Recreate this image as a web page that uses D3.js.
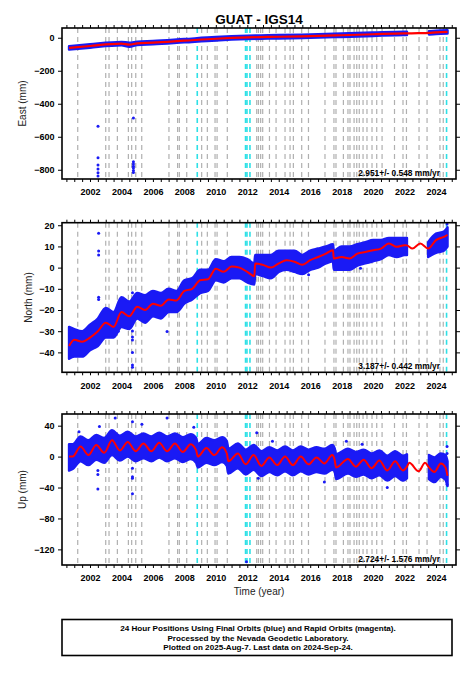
<!DOCTYPE html>
<html>
<head>
<meta charset="utf-8">
<script src="https://cdn.jsdelivr.net/npm/d3@7"></script>
<style>
  body { margin: 0; background: #fff; }
  svg { display: block; font-family: "Liberation Sans", Arial, Helvetica, sans-serif; }
</style>
</head>
<body>
<script>
// GUAT - IGS14 time series

var station = "GUAT - IGS14";
var yearLabels = [2002, 2004, 2006, 2008, 2010, 2012, 2014, 2016, 2018, 2020, 2022, 2024];

// equipment / event lines (decimal year)
var greyLines = [2001.22, 2003.00, 2003.21, 2003.74, 2004.44, 2004.65, 2004.91, 2005.29, 2007.02, 2007.57,
  2007.68, 2008.15, 2009.10, 2009.46, 2009.95, 2010.08, 2010.73, 2012.60, 2012.71, 2012.85, 2012.98,
  2013.41, 2013.83, 2014.40, 2014.72, 2014.93, 2015.46, 2015.89, 2016.94, 2017.51, 2017.64, 2018.11,
  2018.40, 2018.53, 2018.79, 2018.96, 2019.12, 2019.36, 2019.61, 2019.93, 2020.23, 2020.57, 2021.36,
  2021.90, 2022.12, 2022.92, 2023.43, 2024.25, 2024.46];
var cyanLines = [2008.82, 2011.89, 2011.98, 2012.17, 2024.67];

// East
var eastT     = [2000.67, 2002, 2004, 2004.5, 2005, 2006, 2008, 2010, 2012, 2014, 2016, 2018, 2020, 2022, 2022.15, 2023, 2023.55, 2024, 2024.73];
var eastModel = [-62, -50, -36, -42, -34, -30, -18, -6, 2, 6, 10, 15, 21, 26, 26, 28, 30, 33, 35];
var eastHi    = [-52, -40, -26, -30, -24, -20, -8, 4, 12, 16, 20, 25, 31, 36, 36, null, 40, 43, 45];
var eastLo    = [-72, -60, -46, -54, -44, -40, -28, -16, -8, -4, 0, 5, 11, 16, 16, null, 20, 23, 25];
var eastOut   = [[2002.51, -537], [2002.51, -727], [2002.51, -771], [2002.51, -796], [2002.51, -818], [2002.51, -838],
  [2004.76, -487], [2004.76, -751], [2004.76, -765], [2004.76, -778], [2004.76, -790], [2004.76, -804], [2004.76, -816]];
var eastRate = "2.951+/- 0.548 mm/yr";

// North
var northT     = [2000.67, 2001.0, 2001.5, 2002.0, 2002.5, 2003.0, 2003.5, 2004.0, 2004.5, 2005.0, 2005.5, 2006.0,
  2006.5, 2007.0, 2007.5, 2008.0, 2008.5, 2009.0, 2009.5, 2010.0, 2010.5, 2011.0, 2011.5, 2012.0, 2012.45,
  2012.5, 2013.0, 2013.5, 2014.0, 2014.5, 2015.0, 2015.5, 2016.0, 2016.5, 2017.0, 2017.45, 2017.5, 2018.0,
  2018.5, 2019.0, 2019.5, 2020.0, 2020.5, 2021.0, 2021.5, 2022.0, 2022.15, 2022.5, 2023.0, 2023.5, 2024.0,
  2024.5, 2024.73];
var northModel = [-37, -34, -35, -33, -30, -26, -28, -21, -23, -18.5, -20, -17, -18, -15, -15.5, -11, -10, -6,
  -5.5, -0.5, -2, 0.5, 0, -2, -4, 2, 1.3, 0, 2, 3.5, 2.8, 1.3, 3.5, 5, 6.6, 8.2, 4.3, 5, 4.3, 6.6, 7.4, 8.2,
  9, 11.4, 9.8, 10.6, 10.5, 9, 11.4, 9, 13, 14.5, 15.4];
var northHi    = [-28, -29, -30, -27, -24, -19, -21, -14, -16, -12, -13, -11, -12, -10, -11, -6, -5, -1, -1, 4,
  3, 5, 5, 4, 2, 6, 6, 6, 8, 8, 8, 6, 8, 9, 10, 11, 8, 10, 10, 11, 12, 13, 13, 14, 14, 14, 14, null, null,
  12, 16, 17, 19];
var northLo    = [-43, -42, -42, -39, -37, -33, -33, -28, -29, -24, -26, -23, -24, -21, -21, -17, -15, -12, -11,
  -6, -7, -5, -5, -7, -8, -3, -4, -5, -2, -1, -2, -3, -1, 0, 2, 3, -1, -1, -1, 1, 2, 3, 4, 6, 5, 6, 6, null,
  null, 5, 7, 8, 10];
var northOut   = [[2002.55, 16.2], [2002.55, 7.9], [2002.55, 6.0], [2002.55, -14], [2002.55, -15],
  [2004.7, -11.8], [2004.7, -29.9], [2004.7, -32.7], [2004.7, -34.1], [2004.7, -40], [2004.7, -46], [2004.7, -47],
  [2006.9, -30.2], [2003.8, -30], [2015.9, -3.4], [2019.2, -0.3], [2024.7, 20.6]];
var northRate = "3.187+/- 0.442 mm/yr";

// Up
var upT     = [2000.67, 2000.9, 2001.4, 2001.9, 2002.4, 2002.9, 2003.4, 2003.9, 2004.4, 2004.9, 2005.4, 2005.9,
  2006.4, 2006.9, 2007.4, 2007.9, 2008.4, 2008.75, 2008.85, 2009.4, 2009.9, 2010.4, 2010.7, 2010.8, 2011.4,
  2011.9, 2012.4, 2012.9, 2013.4, 2013.9, 2014.4, 2014.9, 2015.4, 2015.9, 2016.4, 2016.9, 2017.4, 2017.55,
  2017.65, 2018.4, 2018.9, 2019.4, 2019.9, 2020.4, 2020.9, 2021.4, 2021.9, 2022.15, 2022.3, 2022.9, 2023.3,
  2023.55, 2023.9, 2024.3, 2024.6, 2024.73];
var upModel = [0, 0, 13, 2, 15, 5, 21, 8, 19, 7, 17, 7, 18, 7, 17, 6, 16, 8, 0, 11, 2, 12, 4, -6, 4, -10, 2,
  -12, -1, -11, 0, -11, 0, -10, -1, -9, 2, -4, -14, -3, -13, -4, -15, -5, -18, -6, -18, -13, -8, -19, -8,
  -14, -20, -9, -14, -25];
var upHi    = [16, 16, 26, 21, 28, 24, 34, 27, 32, 26, 30, 26, 31, 26, 30, 25, 29, 24, 16, 24, 21, 25, 20, 10,
  17, 9, 15, 7, 12, 8, 13, 8, 13, 9, 12, 10, 15, 11, 3, 10, 6, 9, 4, 8, 1, 7, 1, 3, null, null, null,
  2, -1, 4, 2, -6];
var upLo    = [-18, -16, -6, -11, -4, -8, 2, -5, 0, -6, -2, -6, -1, -6, -2, -7, -3, -8, -14, -8, -11, -7, -12,
  -22, -15, -23, -17, -25, -20, -24, -19, -24, -19, -23, -20, -22, -17, -19, -29, -22, -26, -23, -28, -24,
  -31, -25, -31, -28, null, null, null, -29, -33, -26, -30, -38];
var upOut   = [[2002.5, -18], [2002.5, -23], [2002.5, -42], [2004.7, -15], [2004.7, -26], [2004.7, -28],
  [2004.7, -48], [2004.7, 45], [2003.6, 50], [2006.9, 50], [2008.6, 38], [2012.6, 31], [2011.95, -136],
  [2012.7, -28], [2016.9, -33], [2020.9, -40], [2018.3, 20], [2019.3, 16], [2013.6, 20], [2024.7, 13],
  [2024.7, 4], [2024.7, -36], [2001.3, 32], [2002.6, 39], [2005.3, 42]];
var upRate = "2.724+/- 1.576 mm/yr";

var footer = ["24 Hour Positions Using Final Orbits (blue) and Rapid Orbits (magenta).",
  "Processed by the Nevada Geodetic Laboratory.",
  "Plotted on 2025-Aug-7. Last data on 2024-Sep-24."];

var width = 474, height = 687;
var svg = d3.select("body").append("svg").attr("width", width).attr("height", height);

var x = d3.scaleLinear().domain([2000.22, 2025.27]).range([62, 456]);
var halfYears = d3.range(2000.5, 2025.01, 0.5);

svg.append("text").text(station)
  .attr("x", 259).attr("y", 24).attr("text-anchor", "middle")
  .attr("font-size", 13.5).attr("font-weight", "bold");

function drawPanel(p){
  var y = d3.scaleLinear().domain(p.domain).range([p.bottom, p.top]);
  var g = svg.append("g");
  var clipId = "clip" + p.name;
  g.append("clipPath").attr("id", clipId).append("rect")
    .attr("x", 62).attr("y", p.top).attr("width", 394).attr("height", p.bottom - p.top);
  var inner = g.append("g").attr("clip-path", "url(#" + clipId + ")");

  // event lines
  inner.selectAll("line.grey").data(greyLines).enter().append("line")
    .attr("x1", d => x(d)).attr("x2", d => x(d)).attr("y1", p.top).attr("y2", p.bottom)
    .attr("stroke", "#b0b0b0").attr("stroke-width", 1.2).attr("stroke-dasharray", "5,4");
  inner.selectAll("line.cyan").data(cyanLines).enter().append("line")
    .attr("x1", d => x(d)).attr("x2", d => x(d)).attr("y1", p.top).attr("y2", p.bottom)
    .attr("stroke", "#2ee0e6").attr("stroke-width", 1.6).attr("stroke-dasharray", "5,4");

  var rows = p.t.map(function(t, i){ return {t: t, m: p.model[i], hi: p.hi[i], lo: p.lo[i]}; });

  // blue daily positions, drawn as the envelope of the cloud
  var band = d3.area()
    .defined(d => d.hi != null)
    .x(d => x(d.t)).y0(d => y(d.lo)).y1(d => y(d.hi))
    .curve(d3.curveMonotoneX);
  inner.append("path").datum(rows).attr("d", band)
    .attr("fill", "#1a1af5").attr("stroke", "#1a1af5").attr("stroke-width", 2.5)
    .attr("stroke-linejoin", "round");

  inner.selectAll("circle").data(p.out).enter().append("circle")
    .attr("cx", d => x(d[0])).attr("cy", d => y(d[1])).attr("r", 1.5).attr("fill", "#1a1af5");

  var line = d3.line().x(d => x(d.t)).y(d => y(d.m)).curve(d3.curveMonotoneX);
  inner.append("path").datum(rows).attr("d", line)
    .attr("fill", "none").attr("stroke", "#ff0000").attr("stroke-width", p.redWidth);

  // axes
  var fmt = d3.format("d");
  var bottom = g.append("g").attr("transform", "translate(0," + p.bottom + ")")
    .call(d3.axisBottom(x).tickValues(halfYears).tickSize(3).tickPadding(7)
      .tickFormat(d => yearLabels.indexOf(d) >= 0 ? fmt(d) : ""));
  var top = g.append("g").attr("transform", "translate(0," + p.top + ")")
    .call(d3.axisTop(x).tickValues(halfYears).tickSize(3).tickFormat(""));
  var left = g.append("g").attr("transform", "translate(62,0)")
    .call(d3.axisLeft(y).tickValues(p.ticks).tickSize(4).tickPadding(3.5));
  var right = g.append("g").attr("transform", "translate(456,0)")
    .call(d3.axisRight(y).tickValues(p.ticks).tickSize(4).tickFormat(""));
  [bottom, top, left, right].forEach(function(a){
    a.select(".domain").remove();
    a.selectAll("line").attr("stroke", "#000").attr("stroke-width", 1);
    a.selectAll("text").attr("font-size", 9).attr("font-weight", "bold").attr("fill", "#000")
      .attr("font-family", "Liberation Sans, Arial, sans-serif");
  });

  g.append("rect").attr("x", 62).attr("y", p.top).attr("width", 394).attr("height", p.bottom - p.top)
    .attr("fill", "none").attr("stroke", "#000").attr("stroke-width", 1.6);

  g.append("text").text(p.label)
    .attr("transform", "translate(" + p.labelX + "," + ((p.top + p.bottom) / 2) + ") rotate(-90)")
    .attr("text-anchor", "middle").attr("font-size", 10).attr("fill", "#222");

  g.append("text").text(p.rate)
    .attr("x", 440).attr("y", p.bottom - 3.5).attr("text-anchor", "end")
    .attr("font-size", 8.4).attr("font-weight", "bold");
}

drawPanel({name: "E", top: 28, bottom: 179, domain: [-856, 59], ticks: [0, -200, -400, -600, -800],
  t: eastT, model: eastModel, hi: eastHi, lo: eastLo, out: eastOut, rate: eastRate,
  label: "East (mm)", labelX: 25.5, redWidth: 2.2});
drawPanel({name: "N", top: 222.7, bottom: 372.3, domain: [-49.4, 21.2], ticks: [20, 10, 0, -10, -20, -30, -40],
  t: northT, model: northModel, hi: northHi, lo: northLo, out: northOut, rate: northRate,
  label: "North (mm)", labelX: 32, redWidth: 2});
drawPanel({name: "U", top: 414, bottom: 565, domain: [-140.2, 55.1], ticks: [40, 0, -40, -80, -120],
  t: upT, model: upModel, hi: upHi, lo: upLo, out: upOut, rate: upRate,
  label: "Up (mm)", labelX: 25.5, redWidth: 2});

svg.append("text").text("Time (year)")
  .attr("x", 259).attr("y", 595).attr("text-anchor", "middle")
  .attr("font-size", 10).attr("fill", "#222");

// footer box
svg.append("rect").attr("x", 62).attr("y", 619.5).attr("width", 390).attr("height", 36)
  .attr("fill", "none").attr("stroke", "#000").attr("stroke-width", 1.6);
svg.selectAll("text.foot").data(footer).enter().append("text")
  .attr("class", "foot")
  .text(d => d)
  .attr("x", 258).attr("y", (d, i) => 631 + i * 9.5)
  .attr("text-anchor", "middle").attr("font-size", 8.1).attr("font-weight", "bold");
</script>
</body>
</html>
